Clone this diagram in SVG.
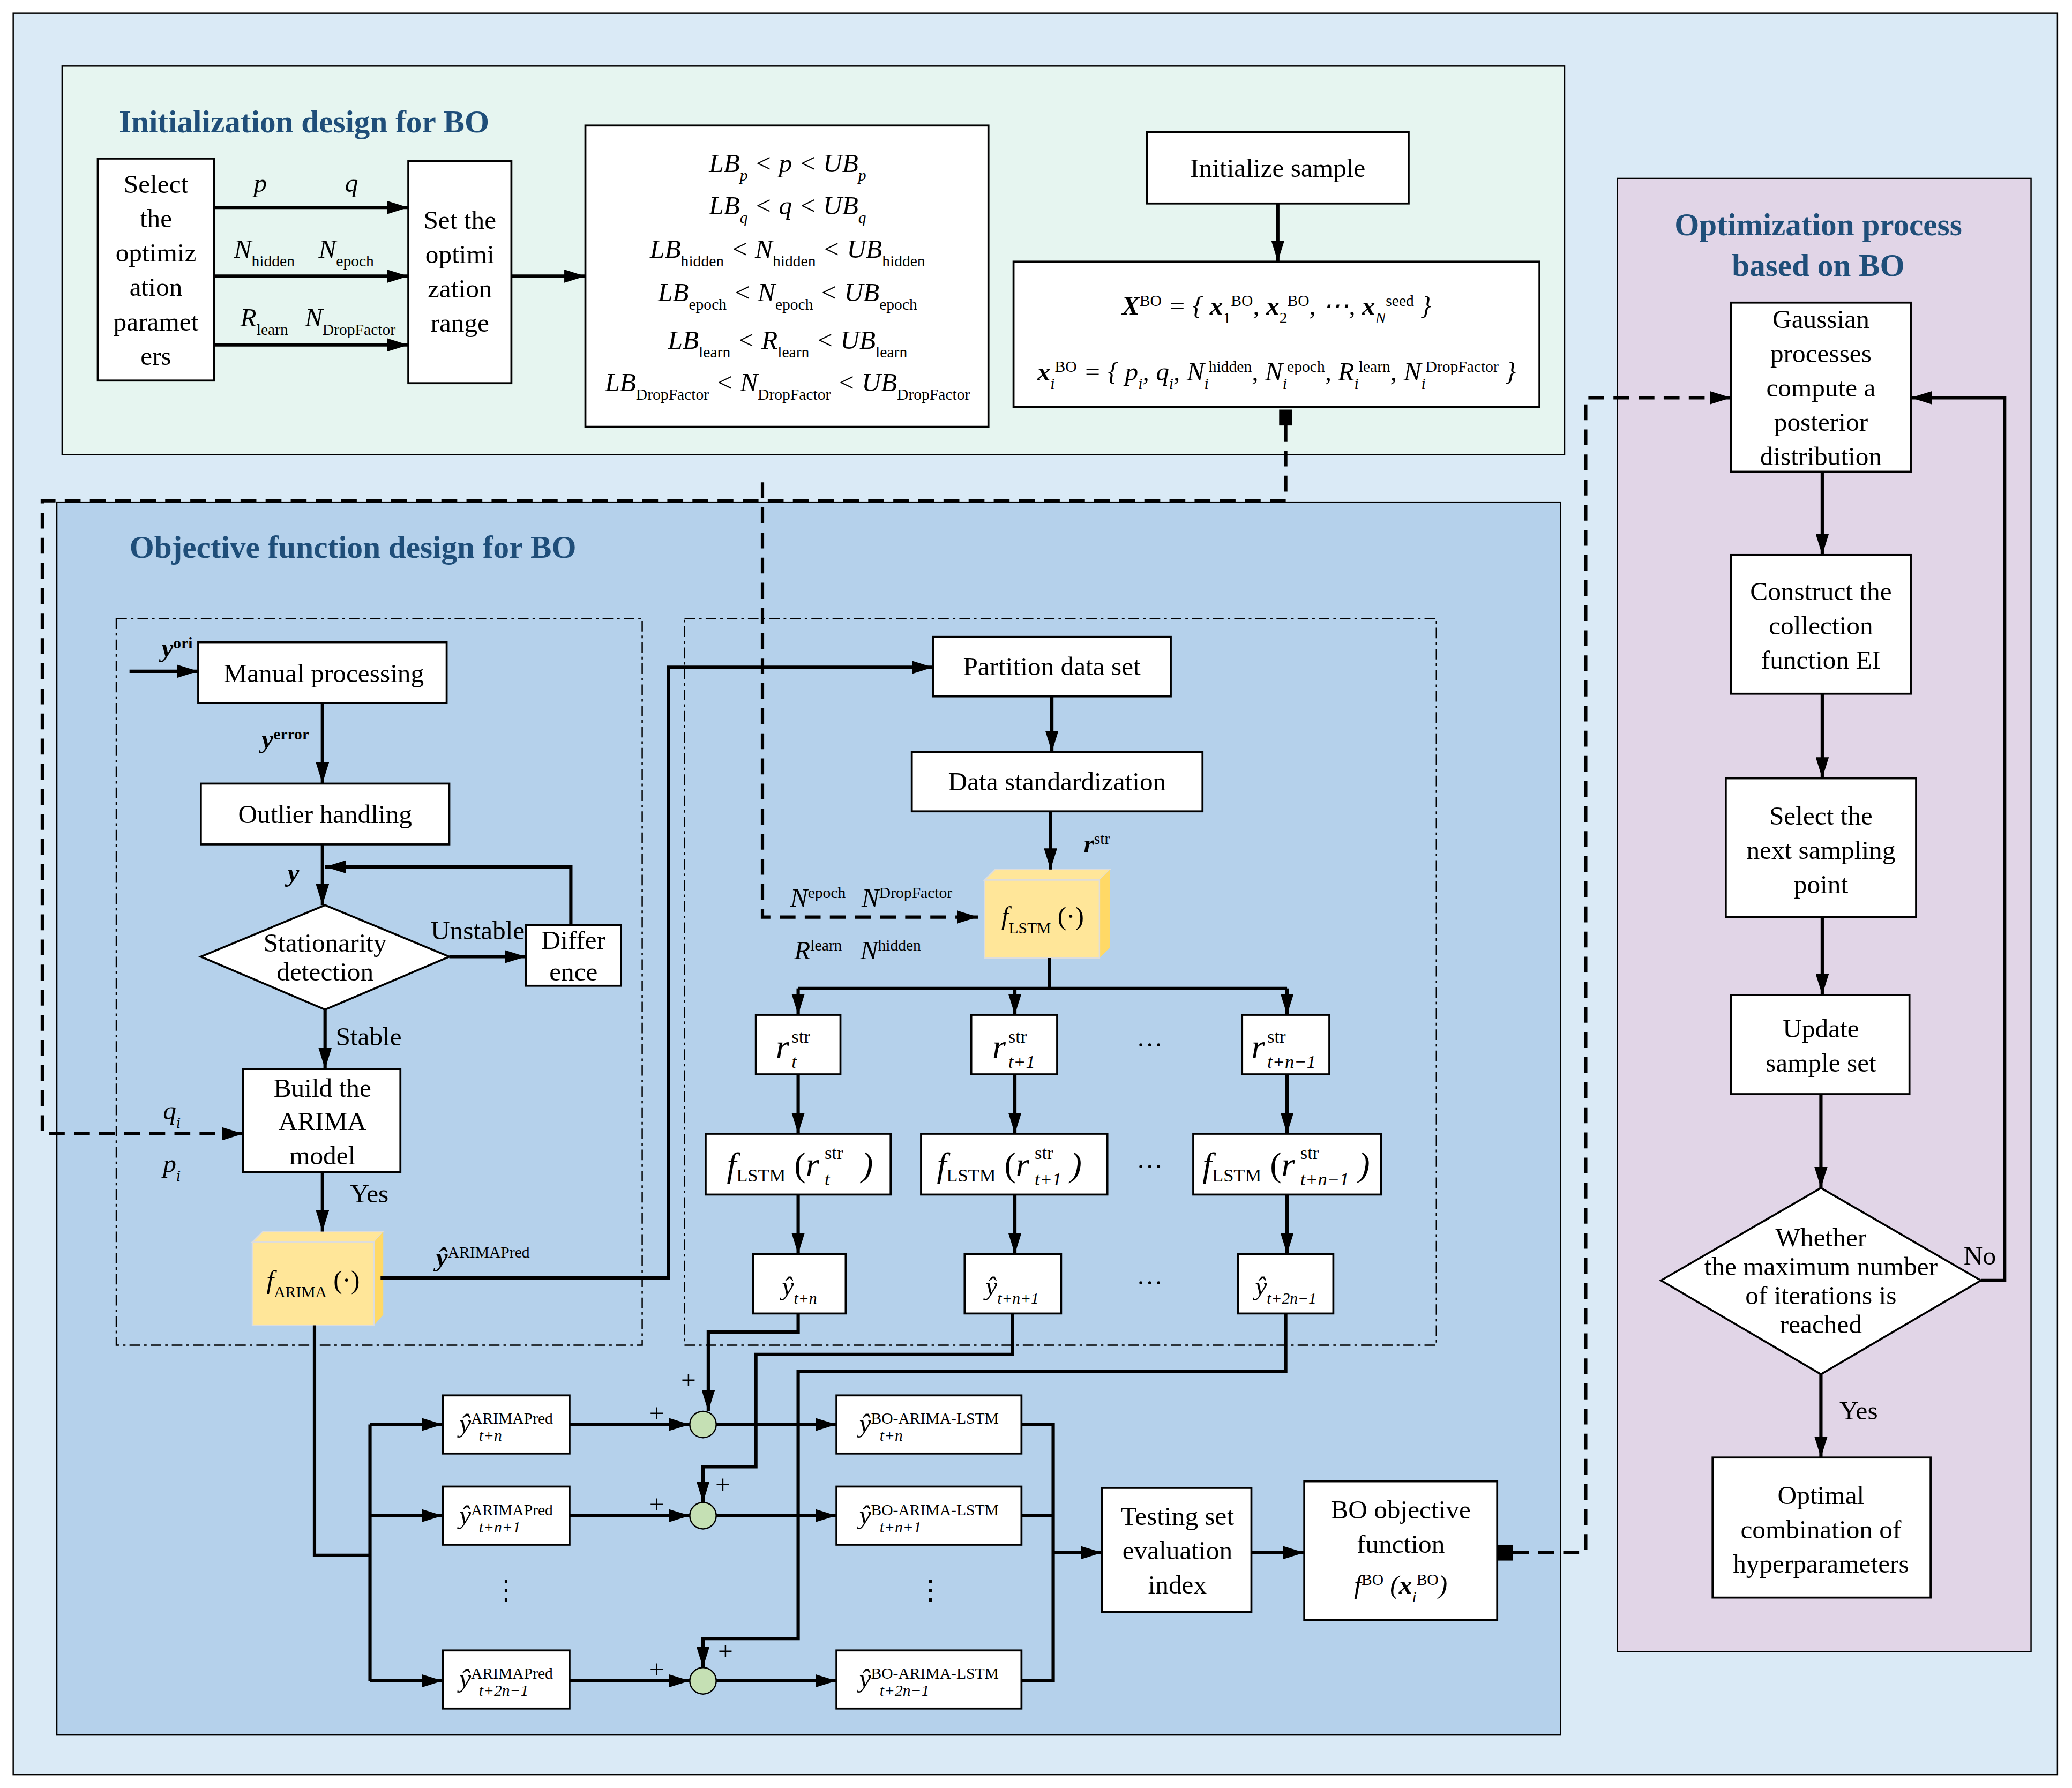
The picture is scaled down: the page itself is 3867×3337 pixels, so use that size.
<svg xmlns="http://www.w3.org/2000/svg" width="3867" height="3337" viewBox="0 0 3867 3337">
<defs>
<marker id="ar" markerUnits="userSpaceOnUse" viewBox="0 0 16 10" markerWidth="16" markerHeight="10" refX="16" refY="5" orient="auto"><path d="M0,0 L16,5 L0,10 z" fill="#000"/></marker>
<style>
.t{font-family:"Liberation Serif",serif;font-size:20px;text-anchor:middle;fill:#000}
.l{text-anchor:start}
.i{font-style:italic}
.b{font-weight:bold}
.sb{font-size:12px;baseline-shift:sub;font-style:normal}
.sbi{font-size:12px;baseline-shift:sub;font-style:italic}
.sp{font-size:12px;baseline-shift:super;font-style:normal}
.ttl{font-family:"Liberation Serif",serif;font-size:24px;font-weight:bold;fill:#1f4e79}
.bx{fill:#fff;stroke:#000;stroke-width:1.5}
.ln{fill:none;stroke:#000;stroke-width:2.5}
.la{fill:none;stroke:#000;stroke-width:2.5;marker-end:url(#ar)}
.ds{fill:none;stroke:#000;stroke-width:2.5;stroke-dasharray:12,7}
.dd{fill:none;stroke:#000;stroke-width:1;stroke-dasharray:8,3,2,3}
.cube{fill:#ffe699;stroke:#ddd;stroke-width:1}
.m{font-family:"Liberation Serif",serif;font-size:26px;font-style:italic;fill:#000}
.ms{font-family:"Liberation Serif",serif;font-size:14px;fill:#000}
</style>
</defs>
<g transform="scale(2.4662)">
<g id="panels">
<rect x="10" y="10" width="1547" height="1333" fill="#daeaf6" stroke="#000" stroke-width="1"/>
<rect x="47" y="50" width="1137" height="294" fill="#e6f5f0" stroke="#000" stroke-width="1"/>
<rect x="43" y="380" width="1138" height="933" fill="#b5d1eb" stroke="#000" stroke-width="1"/>
<rect x="1224" y="135" width="313" height="1115" fill="#e1d5e7" stroke="#000" stroke-width="1"/>
<rect x="88" y="468" width="398" height="550" class="dd"/>
<rect x="518" y="468" width="569" height="550" class="dd"/>
<text class="ttl" x="90" y="100">Initialization design for BO</text>
<text class="ttl" x="98" y="422">Objective function design for BO</text>
<text class="ttl" x="1376" y="178" text-anchor="middle">Optimization process</text>
<text class="ttl" x="1376" y="209" text-anchor="middle">based on BO</text>
</g>
<g id="n_select"><rect class="bx" x="74" y="120" width="88" height="168"/>
<text class="t"><tspan x="118" y="146">Select</tspan><tspan x="118" y="172">the</tspan><tspan x="118" y="198">optimiz</tspan><tspan x="118" y="224">ation</tspan><tspan x="118" y="250">paramet</tspan><tspan x="118" y="276">ers</tspan></text></g>
<g id="n_set"><rect class="bx" x="309" y="122" width="78" height="168"/>
<text class="t"><tspan x="348" y="173">Set the</tspan><tspan x="348" y="199">optimi</tspan><tspan x="348" y="225">zation</tspan><tspan x="348" y="251">range</tspan></text></g>
<g id="n_range"><rect class="bx" x="443" y="95" width="305" height="228"/>
<text class="t i" x="596" y="130">LB<tspan class="sbi">p</tspan> &lt; p &lt; UB<tspan class="sbi">p</tspan></text>
<text class="t i" x="596" y="162">LB<tspan class="sbi">q</tspan> &lt; q &lt; UB<tspan class="sbi">q</tspan></text>
<text class="t i" x="596" y="195">LB<tspan class="sb">hidden</tspan> &lt; N<tspan class="sb">hidden</tspan> &lt; UB<tspan class="sb">hidden</tspan></text>
<text class="t i" x="596" y="228">LB<tspan class="sb">epoch</tspan> &lt; N<tspan class="sb">epoch</tspan> &lt; UB<tspan class="sb">epoch</tspan></text>
<text class="t i" x="596" y="264">LB<tspan class="sb">learn</tspan> &lt; R<tspan class="sb">learn</tspan> &lt; UB<tspan class="sb">learn</tspan></text>
<text class="t i" x="596" y="296">LB<tspan class="sb">DropFactor</tspan> &lt; N<tspan class="sb">DropFactor</tspan> &lt; UB<tspan class="sb">DropFactor</tspan></text></g>
<g id="n_init"><rect class="bx" x="868" y="100" width="198" height="54"/><text class="t" x="967" y="134">Initialize sample</text></g>
<g id="n_x"><rect class="bx" x="767" y="198" width="398" height="110"/>
<text class="t i" x="966" y="238"><tspan class="b">X</tspan><tspan class="sp">BO</tspan> = { <tspan class="b">x</tspan><tspan class="sb">1</tspan><tspan class="sp">BO</tspan>, <tspan class="b">x</tspan><tspan class="sb">2</tspan><tspan class="sp">BO</tspan>, ⋯, <tspan class="b">x</tspan><tspan class="sbi">N</tspan><tspan class="sp">seed</tspan> }</text>
<text class="t i" x="966" y="288"><tspan class="b">x</tspan><tspan class="sbi">i</tspan><tspan class="sp">BO</tspan> = { p<tspan class="sbi">i</tspan>, q<tspan class="sbi">i</tspan>, N<tspan class="sbi">i</tspan><tspan class="sp">hidden</tspan>, N<tspan class="sbi">i</tspan><tspan class="sp">epoch</tspan>, R<tspan class="sbi">i</tspan><tspan class="sp">learn</tspan>, N<tspan class="sbi">i</tspan><tspan class="sp">DropFactor</tspan> }</text></g>
<g id="n_manual"><rect class="bx" x="150" y="486" width="188" height="46"/><text class="t" x="245" y="516">Manual processing</text></g>
<g id="n_outlier"><rect class="bx" x="152" y="593" width="188" height="46"/><text class="t" x="246" y="623">Outlier handling</text></g>
<g id="n_stat"><polygon class="bx" points="152,724 246,685 340,724 246,764"/><text class="t"><tspan x="246" y="720">Stationarity</tspan><tspan x="246" y="742">detection</tspan></text></g>
<g id="n_diff"><rect class="bx" x="398" y="700" width="72" height="46"/><text class="t"><tspan x="434" y="718">Differ</tspan><tspan x="434" y="742">ence</tspan></text></g>
<g id="n_arima"><rect class="bx" x="184" y="809" width="119" height="78"/><text class="t"><tspan x="244" y="830">Build the</tspan><tspan x="244" y="855">ARIMA</tspan><tspan x="244" y="881">model</tspan></text></g>
<g id="n_farima"><polygon class="cube" points="191,940 199,932 290,932 283,940"/><polygon points="283,940 290,932 290,995 283,1003" fill="#ffd966"/><rect class="cube" x="191" y="940" width="92" height="63"/><text class="t i" x="237" y="975">f<tspan class="sb">ARIMA</tspan><tspan font-style="normal"> (·)</tspan></text></g>
<g id="n_part"><rect class="bx" x="706" y="482" width="180" height="45"/><text class="t" x="796" y="511">Partition data set</text></g>
<g id="n_std"><rect class="bx" x="690" y="569" width="220" height="45"/><text class="t" x="800" y="598">Data standardization</text></g>
<g id="n_flstm"><polygon class="cube" points="745,666 753,658 840,658 832,666"/><polygon points="832,666 840,658 840,717 832,725" fill="#ffd966"/><rect class="cube" x="745" y="666" width="87" height="59"/><text class="t i" x="789" y="700">f<tspan class="sb">LSTM</tspan><tspan font-style="normal"> (·)</tspan></text></g>
<g id="n_r1"><rect class="bx" x="572" y="768" width="64" height="45"/><text class="m" x="587" y="801">r</text><text class="ms i" x="599" y="808">t</text><text class="ms" x="599" y="789">str</text></g>
<g id="n_r2"><rect class="bx" x="735" y="768" width="65" height="45"/><text class="m" x="751" y="801">r</text><text class="ms i" x="763" y="808">t+1</text><text class="ms" x="763" y="789">str</text></g>
<g id="n_r3"><rect class="bx" x="940" y="768" width="66" height="45"/><text class="m" x="947" y="801">r</text><text class="ms i" x="959" y="808">t+n−1</text><text class="ms" x="959" y="789">str</text></g>
<g id="n_fl1"><rect class="bx" x="534" y="858" width="140" height="46"/><text class="m" x="550" y="890">f<tspan class="ms" font-style="normal" dy="4">LSTM</tspan><tspan font-style="normal" dy="-4"> (</tspan>r</text><text class="ms i" x="624" y="897">t</text><text class="ms" x="624" y="877">str</text><text class="m" x="652" y="890" font-style="normal">)</text></g>
<g id="n_fl2"><rect class="bx" x="697" y="858" width="141" height="46"/><text class="m" x="709" y="890">f<tspan class="ms" font-style="normal" dy="4">LSTM</tspan><tspan font-style="normal" dy="-4"> (</tspan>r</text><text class="ms i" x="783" y="897">t+1</text><text class="ms" x="783" y="877">str</text><text class="m" x="810" y="890" font-style="normal">)</text></g>
<g id="n_fl3"><rect class="bx" x="903" y="858" width="142" height="46"/><text class="m" x="910" y="890">f<tspan class="ms" font-style="normal" dy="4">LSTM</tspan><tspan font-style="normal" dy="-4"> (</tspan>r</text><text class="ms i" x="984" y="897">t+n−1</text><text class="ms" x="984" y="877">str</text><text class="m" x="1028" y="890" font-style="normal">)</text></g>
<g id="n_y1"><rect class="bx" x="570" y="949" width="70" height="45"/><text class="t i" x="605" y="980" font-size="24">ŷ<tspan class="sbi">t+n</tspan></text></g>
<g id="n_y2"><rect class="bx" x="730" y="949" width="73" height="45"/><text class="t i" x="766" y="980" font-size="24">ŷ<tspan class="sbi">t+n+1</tspan></text></g>
<g id="n_y3"><rect class="bx" x="937" y="949" width="72" height="45"/><text class="t i" x="973" y="980" font-size="24">ŷ<tspan class="sbi">t+2n−1</tspan></text></g>
<g id="n_ap1"><rect class="bx" x="335" y="1056" width="96" height="44"/><text class="t i" x="383" y="1084">ŷ<tspan class="sp">ARIMAPred</tspan><tspan class="sbi" dx="-56">t+n</tspan></text></g>
<g id="n_ap2"><rect class="bx" x="335" y="1125" width="96" height="44"/><text class="t i" x="383" y="1153">ŷ<tspan class="sp">ARIMAPred</tspan><tspan class="sbi" dx="-56">t+n+1</tspan></text></g>
<g id="n_ap3"><rect class="bx" x="335" y="1249" width="96" height="44"/><text class="t i" x="383" y="1277">ŷ<tspan class="sp">ARIMAPred</tspan><tspan class="sbi" dx="-56">t+2n−1</tspan></text></g>
<g id="n_c1"><circle cx="532" cy="1078" r="10" fill="#c5e0b4" stroke="#000"/></g>
<g id="n_c2"><circle cx="532" cy="1147" r="10" fill="#c5e0b4" stroke="#000"/></g>
<g id="n_c3"><circle cx="532" cy="1272" r="10" fill="#c5e0b4" stroke="#000"/></g>
<g id="n_bo1"><rect class="bx" x="633" y="1056" width="140" height="44"/><text class="t i" x="703" y="1084">ŷ<tspan class="sp">BO-ARIMA-LSTM</tspan><tspan class="sbi" dx="-90">t+n</tspan></text></g>
<g id="n_bo2"><rect class="bx" x="633" y="1125" width="140" height="44"/><text class="t i" x="703" y="1153">ŷ<tspan class="sp">BO-ARIMA-LSTM</tspan><tspan class="sbi" dx="-90">t+n+1</tspan></text></g>
<g id="n_bo3"><rect class="bx" x="633" y="1249" width="140" height="44"/><text class="t i" x="703" y="1277">ŷ<tspan class="sp">BO-ARIMA-LSTM</tspan><tspan class="sbi" dx="-90">t+2n−1</tspan></text></g>
<g id="n_test"><rect class="bx" x="834" y="1126" width="113" height="94"/><text class="t"><tspan x="891" y="1154">Testing set</tspan><tspan x="891" y="1180">evaluation</tspan><tspan x="891" y="1206">index</tspan></text></g>
<g id="n_boobj"><rect class="bx" x="987" y="1121" width="146" height="105"/><text class="t"><tspan x="1060" y="1149">BO objective</tspan><tspan x="1060" y="1175">function</tspan></text><text class="t i" x="1060" y="1206">f<tspan class="sp">BO</tspan> (<tspan class="b">x</tspan><tspan class="sbi">i</tspan><tspan class="sp">BO</tspan>)</text></g>
<g id="n_gp"><rect class="bx" x="1310" y="229" width="136" height="128"/><text class="t"><tspan x="1378" y="248">Gaussian</tspan><tspan x="1378" y="274">processes</tspan><tspan x="1378" y="300">compute a</tspan><tspan x="1378" y="326">posterior</tspan><tspan x="1378" y="352">distribution</tspan></text></g>
<g id="n_ei"><rect class="bx" x="1310" y="420" width="136" height="105"/><text class="t"><tspan x="1378" y="454">Construct the</tspan><tspan x="1378" y="480">collection</tspan><tspan x="1378" y="506">function EI</tspan></text></g>
<g id="n_next"><rect class="bx" x="1306" y="589" width="144" height="105"/><text class="t"><tspan x="1378" y="624">Select the</tspan><tspan x="1378" y="650">next sampling</tspan><tspan x="1378" y="676">point</tspan></text></g>
<g id="n_upd"><rect class="bx" x="1310" y="753" width="135" height="75"/><text class="t"><tspan x="1378" y="785">Update</tspan><tspan x="1378" y="811">sample set</tspan></text></g>
<g id="n_max"><polygon class="bx" points="1257,969 1378,899 1499,969 1378,1040"/><text class="t"><tspan x="1378" y="943">Whether</tspan><tspan x="1378" y="965">the maximum number</tspan><tspan x="1378" y="987">of iterations is</tspan><tspan x="1378" y="1009">reached</tspan></text></g>
<g id="n_opt"><rect class="bx" x="1296" y="1103" width="165" height="106"/><text class="t"><tspan x="1378" y="1138">Optimal</tspan><tspan x="1378" y="1164">combination of</tspan><tspan x="1378" y="1190">hyperparameters</tspan></text></g>
<g id="connectors">
<path class="la" d="M162,157H309"/><path class="la" d="M162,209H309"/><path class="la" d="M162,261H309"/>
<path class="la" d="M387,209H443"/><path class="la" d="M967,154V198"/>
<rect x="968" y="310" width="10" height="12" fill="#000"/>
<path class="ds" d="M973,322V379H32V858H170"/><path class="la" d="M170,858H184"/>
<path class="ds" d="M577,365V694H725"/><path class="la" d="M725,694H740"/>
<path class="la" d="M98,508H150"/><path class="la" d="M244,532V593"/><path class="la" d="M244,639V685"/>
<path class="la" d="M340,724H398"/><path class="la" d="M432,700V656H246"/>
<path class="la" d="M246,764V809"/><path class="la" d="M244,887V932"/>
<path class="la" d="M288,967H506V505H706"/><path class="la" d="M796,527V569"/><path class="la" d="M795,614V658"/>
<path class="ln" d="M794,725V748M604,748H974"/><path class="la" d="M604,748V768"/><path class="la" d="M768,748V768"/><path class="la" d="M974,748V768"/>
<path class="la" d="M604,813V858"/><path class="la" d="M768,813V858"/><path class="la" d="M974,813V858"/>
<path class="la" d="M604,904V949"/><path class="la" d="M768,904V949"/><path class="la" d="M974,904V949"/>
<path class="la" d="M604,994V1008H536V1068"/><path class="la" d="M766,994V1025H572V1110H532V1137"/><path class="la" d="M973,994V1038H604V1240H532V1262"/>
<path class="ln" d="M238,1003V1177H280M280,1078V1272"/><path class="la" d="M280,1078H335"/><path class="la" d="M280,1147H335"/><path class="la" d="M280,1272H335"/>
<path class="la" d="M431,1078H522"/><path class="la" d="M431,1147H522"/><path class="la" d="M431,1272H522"/>
<path class="la" d="M542,1078H633"/><path class="la" d="M542,1147H633"/><path class="la" d="M542,1272H633"/>
<path class="ln" d="M773,1078H797V1272H773M773,1147H797"/><path class="la" d="M797,1175H834"/>
<path class="la" d="M947,1175H987"/>
<rect x="1133" y="1169" width="12" height="12" fill="#000"/>
<path class="ds" d="M1145,1175H1200V301H1295"/><path class="la" d="M1295,301H1310"/>
<path class="la" d="M1379,357V420"/><path class="la" d="M1379,525V589"/><path class="la" d="M1379,694V753"/><path class="la" d="M1378,828V899"/>
<path class="la" d="M1499,969H1517V301H1446"/><path class="la" d="M1378,1040V1103"/>
</g>
<g id="labels">
<text class="t i" x="197" y="145">p</text><text class="t i" x="266" y="145">q</text>
<text class="t i" x="200" y="195">N<tspan class="sb">hidden</tspan></text><text class="t i" x="262" y="195">N<tspan class="sb">epoch</tspan></text>
<text class="t i" x="200" y="247">R<tspan class="sb">learn</tspan></text><text class="t i" x="265" y="247">N<tspan class="sb">DropFactor</tspan></text>
<text class="t i b" x="134" y="497" font-size="22">y<tspan class="sp">ori</tspan></text>
<text class="t i b" x="216" y="566" font-size="22">y<tspan class="sp">error</tspan></text>
<text class="t i b" x="222" y="667">y</text>
<text class="t l" x="326" y="711" font-size="18">Unstable</text>
<text class="t l" x="254" y="791" font-size="18">Stable</text>
<text class="t i" x="130" y="847">q<tspan class="sbi">i</tspan></text><text class="t i" x="130" y="887">p<tspan class="sbi">i</tspan></text>
<text class="t l" x="265" y="910" font-size="18">Yes</text>
<text class="t i l b" x="330" y="958">ŷ<tspan class="sp" font-weight="normal">ARIMAPred</tspan></text>
<text class="t i b" x="830" y="645">r<tspan class="sp" font-weight="normal">str</tspan></text>
<text class="t i l" x="598" y="686">N<tspan class="sp">epoch</tspan></text><text class="t i l" x="652" y="686">N<tspan class="sp">DropFactor</tspan></text>
<text class="t i l" x="601" y="726">R<tspan class="sp">learn</tspan></text><text class="t i l" x="651" y="726">N<tspan class="sp">hidden</tspan></text>
<text class="t" x="870" y="792">…</text><text class="t" x="870" y="884">…</text><text class="t" x="870" y="972">…</text>
<text class="t" x="383" y="1210">⋮</text><text class="t" x="704" y="1210">⋮</text>
<text class="t" x="497" y="1076">+</text><text class="t" x="497" y="1145">+</text><text class="t" x="497" y="1270">+</text>
<text class="t" x="521" y="1051">+</text><text class="t" x="547" y="1130">+</text><text class="t" x="549" y="1256">+</text>
<text class="t l" x="1486" y="957" font-size="18">No</text>
<text class="t l" x="1392" y="1074" font-size="18">Yes</text>
</g>
</g>
</svg>
